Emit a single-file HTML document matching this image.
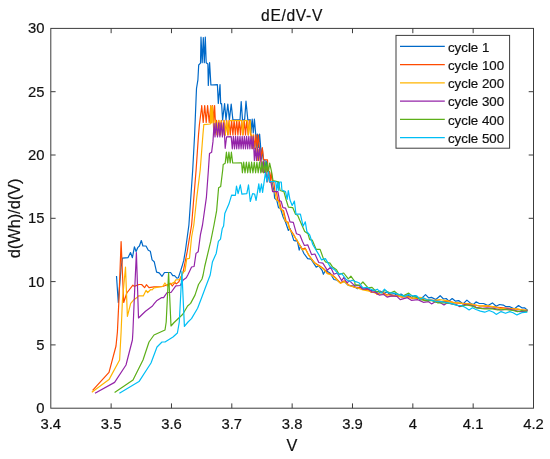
<!DOCTYPE html><html><head><meta charset="utf-8"><title>dE/dV-V</title><style>html,body{margin:0;padding:0;background:#fff}svg{display:block}text{font-family:"Liberation Sans",Arial,Helvetica,sans-serif;fill:#111;stroke:#111;stroke-width:0.18px}</style></head><body>
<svg width="550" height="459" viewBox="0 0 550 459">
<rect x="0" y="0" width="550" height="459" fill="#fff"/>
<clipPath id="c"><rect x="50.8" y="28.4" width="482.7" height="379.8"/></clipPath>
<g clip-path="url(#c)" fill="none" stroke-width="1.2" stroke-linejoin="round">
<polyline stroke="#0069C8" points="116.5,276.0 118.3,302.5 121.1,267.2 122.0,261.7 122.4,258.2 128.1,257.6 130.5,252.5 132.4,257.7 134.4,246.8 136.1,251.6 137.7,247.7 139.4,246.0 141.3,240.5 142.9,246.0 146.0,246.0 148.3,250.3 150.3,251.2 152.1,259.9 154.2,261.7 156.6,272.1 159.2,272.9 162.0,276.4 164.5,272.5 170.6,272.5 172.8,275.6 174.5,275.6 176.9,278.2 178.4,277.7 180.2,272.1 181.9,266.8 183.7,260.7 185.5,250.0 188.9,225.0 192.7,170.0 194.6,135.0 196.1,98.0 196.5,88.5 197.9,79.8 198.7,65.0 200.5,63.2 201.0,37.0 202.2,62.7 203.3,37.5 204.3,62.7 205.3,37.0 206.2,62.7 207.9,64.0 208.3,85.5 209.6,62.5 210.9,85.0 217.4,84.6 218.3,103.5 220.0,84.6 220.7,103.7 221.6,103.7 222.6,119.9 224.6,103.5 226.0,119.9 227.8,104.0 229.4,119.9 231.2,104.0 232.9,119.9 240.0,119.9 241.2,101.5 242.5,119.9 244.6,119.9 246.0,101.2 247.8,119.9 250.4,119.9 251.0,133.0 252.2,119.0 253.3,133.0 254.4,119.0 255.6,133.0 256.2,147.5 257.3,134.0 258.4,147.5 259.6,134.0 260.7,147.5 261.3,160.0 262.3,148.5 263.3,160.0 265.0,160.2 265.8,171.5 266.8,161.0 267.8,172.0 269.0,171.5 270.3,181.8 272.0,182.0 274.1,191.6 274.6,198.2 276.8,200.4 278.5,207.6 280.5,208.5 282.9,216.4 285.5,222.0 288.4,230.5 290.0,228.4 293.8,240.4 295.3,240.9 297.2,240.2 299.2,250.1 300.5,246.1 303.8,253.3 307.7,258.6 311.0,259.2 313.6,263.1 316.2,267.1 318.8,265.8 322.1,270.3 323.4,274.3 325.4,270.3 330.0,273.0 333.9,279.5 337.2,280.2 340.4,282.8 344.4,281.5 348.3,285.4 353.5,286.1 357.5,288.7 361.0,287.0 364.0,289.5 367.0,288.0 370.0,291.0 373.5,290.0 376.5,292.5 380.0,291.0 383.5,293.5 387.0,292.0 390.0,294.5 394.0,293.5 397.5,295.5 401.0,294.0 404.5,296.5 408.0,295.0 411.5,297.5 415.0,295.5 418.0,298.0 420.0,298.5 422.7,297.4 425.5,294.6 428.7,297.9 431.5,297.4 435.8,299.5 440.2,295.7 443.5,299.0 446.2,298.5 448.9,301.2 452.2,298.5 455.5,301.2 458.7,300.6 463.1,303.9 466.9,300.1 471.3,303.9 473.5,304.5 476.0,301.8 479.3,303.5 483.6,303.5 488.0,305.6 492.4,302.9 496.2,306.2 499.5,304.5 503.3,305.1 506.0,306.7 509.8,306.7 514.2,308.9 518.5,305.6 521.8,307.8 524.5,307.8 527.8,310.5"/>
<polyline stroke="#FF4A00" points="92.6,390.4 109.0,372.4 116.0,346.0 117.4,332.0 118.9,300.7 121.1,241.6 123.7,302.5 126.8,293.0 132.9,285.1 134.2,286.4 139.0,284.5 141.6,284.5 144.6,287.7 146.4,284.7 149.0,287.6 154.0,286.9 162.7,286.5 168.8,284.3 170.6,283.4 172.3,286.0 174.9,282.5 176.3,283.9 178.9,281.7 180.2,278.2 182.9,273.0 187.3,251.2 191.6,225.0 196.1,170.0 198.5,135.0 199.4,124.7 201.6,107.2 201.7,105.5 203.2,122.5 204.7,105.5 206.2,122.5 207.6,105.5 209.2,122.5 210.8,105.5 211.7,122.5 212.6,105.5 213.6,122.5 214.6,105.5 215.4,122.5 216.4,120.3 217.7,135.0 218.9,120.3 220.2,135.0 221.5,120.3 222.7,135.0 224.0,120.3 225.3,135.0 226.5,120.3 227.8,135.0 229.1,120.3 230.3,135.0 231.6,120.3 232.9,135.0 234.1,120.3 235.4,135.0 236.7,120.3 237.9,135.0 239.2,120.3 240.5,135.0 241.7,120.3 243.0,135.0 244.3,120.3 245.5,135.0 246.8,120.3 248.1,135.0 249.3,120.3 250.6,135.0 251.3,134.8 252.5,148.2 253.6,134.8 254.8,148.2 256.0,134.8 257.2,148.2 258.3,134.8 259.5,148.2 260.9,159.0 262.3,147.6 263.6,159.6 267.5,159.8 267.9,171.0 269.5,171.5 270.4,181.5 271.4,172.0 272.4,182.0 273.8,182.0 275.0,191.5 276.5,192.0 277.8,200.0 279.5,201.0 281.3,209.8 283.5,210.5 286.2,221.8 288.0,222.0 289.5,228.4 293.8,234.9 295.9,238.9 299.2,244.2 302.5,249.4 305.1,248.1 308.4,254.6 312.9,260.5 314.9,263.1 319.5,265.8 323.4,268.4 327.3,273.0 331.3,274.3 335.2,277.5 340.4,282.8 344.4,280.8 348.3,284.7 354.8,287.4 360.2,287.9 364.2,289.2 368.1,289.9 371.4,292.5 374.6,291.8 377.3,294.5 381.2,291.8 386.4,294.5 391.7,295.1 396.9,295.8 402.1,297.1 407.4,296.4 412.6,298.4 417.8,298.4 420.0,297.9 424.4,300.1 430.9,300.1 436.4,300.6 441.8,301.7 448.4,301.2 454.9,302.8 461.5,303.4 468.0,303.9 474.5,305.0 480.0,306.0 486.9,306.2 497.8,307.3 508.7,308.4 519.6,309.5 527.3,310.5"/>
<polyline stroke="#FFB400" points="91.8,392.3 109.0,379.6 119.6,360.0 121.1,332.0 122.4,300.7 125.5,267.2 127.4,316.4 130.7,303.3 134.2,299.4 137.7,296.9 138.5,295.9 143.3,295.9 146.0,290.4 147.7,292.5 150.8,289.5 152.1,289.9 154.0,287.8 162.7,286.5 164.9,283.0 167.1,286.0 170.1,284.3 174.5,282.1 175.8,279.9 180.2,279.5 182.8,272.9 185.0,270.8 186.7,258.8 189.5,258.3 191.6,237.0 193.8,225.0 196.8,197.3 200.2,170.0 202.9,135.0 203.8,124.7 210.3,124.0 210.8,106.0 211.6,123.0 212.4,106.0 213.2,122.0 214.0,134.8 215.4,120.6 216.8,134.8 218.3,120.6 219.7,134.8 221.1,120.6 222.5,134.8 223.9,120.6 225.3,134.8 226.8,120.6 228.2,134.8 229.6,120.6 241.6,120.6 242.7,134.8 243.8,120.6 247.4,120.6 248.4,134.8 250.2,120.6 251.0,135.2 252.0,148.3 253.0,135.2 254.0,148.3 256.6,148.5 257.6,160.5 258.8,149.0 260.0,161.0 261.2,160.0 262.4,172.0 263.6,161.0 264.8,172.5 266.0,172.0 267.3,182.0 268.5,172.5 269.6,182.0 271.5,182.5 273.0,191.5 275.0,192.0 276.4,200.0 278.5,201.0 280.3,209.0 282.5,210.0 285.2,221.0 287.5,222.0 289.5,229.0 293.8,235.5 296.5,239.5 299.8,245.0 302.5,250.0 305.5,249.0 308.8,255.3 312.9,261.0 315.5,263.8 319.5,266.5 323.4,269.0 327.3,273.6 331.3,275.0 335.2,278.0 340.4,283.4 344.4,281.5 348.3,285.2 355.0,287.3 362.9,289.9 369.4,291.2 377.3,293.8 385.1,294.5 388.4,296.4 394.3,295.8 400.8,296.4 407.4,297.1 413.9,298.4 420.0,297.4 425.5,299.0 433.1,300.6 439.6,299.5 446.2,300.6 452.7,302.3 459.3,302.8 463.6,303.9 470.2,303.9 475.6,305.0 480.0,306.2 486.9,305.6 492.4,306.7 500.0,308.4 508.7,308.9 517.5,308.9 522.9,310.0 527.3,310.0"/>
<polyline stroke="#9424A8" points="95.0,393.2 114.6,382.4 126.0,365.0 132.4,340.0 132.9,332.0 134.2,300.7 136.4,252.5 138.5,318.0 145.5,311.2 152.5,306.0 154.0,303.8 156.6,300.8 161.4,297.7 163.6,297.7 167.1,292.5 171.0,292.5 175.8,285.9 180.2,285.5 183.2,279.9 186.3,277.7 187.8,275.0 191.6,267.0 194.1,266.5 196.0,253.4 198.2,251.7 200.4,234.8 202.5,225.0 206.4,197.3 208.4,170.0 209.5,153.6 211.6,152.3 213.0,141.4 214.1,123.3 215.0,137.0 216.2,122.8 217.5,137.0 218.7,122.8 219.9,137.0 221.1,122.8 222.4,137.0 223.6,122.8 224.6,136.8 225.2,148.3 226.6,136.8 231.2,136.6 232.3,148.8 233.4,136.4 234.5,148.8 235.6,136.4 236.7,148.8 237.8,136.4 238.9,148.8 240.0,136.4 241.1,148.8 242.2,136.4 243.3,148.8 244.4,136.4 245.5,148.8 246.6,136.4 247.7,148.8 248.8,136.4 249.9,148.8 251.0,136.4 252.1,148.8 253.2,136.4 254.4,160.5 255.4,148.0 256.5,160.5 257.5,148.0 258.6,160.5 259.6,148.0 260.8,160.5 262.0,172.0 263.2,161.0 264.4,172.5 265.8,172.0 267.0,182.0 268.3,172.5 269.5,182.0 271.0,182.5 272.6,191.6 275.2,191.6 277.9,191.6 279.5,200.4 281.2,201.5 282.9,207.6 285.6,208.2 288.4,216.4 290.0,221.8 293.3,222.4 296.5,233.8 299.9,235.0 302.5,241.5 304.4,245.5 307.7,244.8 311.6,254.6 314.9,254.0 318.8,262.5 322.8,263.1 327.3,270.3 330.6,267.1 333.9,274.3 337.2,273.0 341.7,280.8 343.7,277.5 347.0,282.8 349.6,280.8 353.5,284.7 355.0,285.9 358.9,285.3 362.9,289.2 368.1,288.6 372.0,291.8 375.9,292.5 379.2,295.1 383.8,294.5 387.1,297.1 391.7,295.8 396.9,296.4 400.2,299.7 407.4,297.7 411.3,300.3 417.8,299.7 420.0,300.6 423.3,302.3 428.7,301.7 431.5,303.9 435.3,301.7 439.6,302.3 444.0,305.0 447.3,302.8 451.6,303.9 456.0,304.5 459.8,306.6 464.7,304.5 469.1,305.0 474.5,306.1 476.0,307.3 482.5,308.4 486.9,307.8 493.5,308.4 501.1,310.0 507.6,308.9 513.1,310.0 519.6,311.6 527.3,311.1"/>
<polyline stroke="#5CAF18" points="114.6,392.4 133.0,380.0 143.0,360.0 149.0,342.0 154.0,335.0 165.0,330.0 166.2,322.0 168.6,272.5 171.0,326.0 174.1,322.5 182.8,314.3 187.6,306.0 190.6,303.4 195.0,295.1 198.5,284.5 202.0,279.0 203.1,275.0 204.7,266.5 210.7,241.4 214.0,225.0 216.6,210.9 218.6,187.7 220.7,186.4 222.7,170.0 223.2,164.5 225.2,163.2 226.4,152.2 227.7,163.0 228.9,152.2 230.2,163.0 231.4,152.2 232.7,163.0 241.6,162.8 242.4,172.8 243.7,162.2 245.0,172.8 246.4,162.2 247.7,172.8 249.0,162.2 250.3,172.8 251.6,162.2 252.9,172.8 254.3,162.2 255.6,172.8 256.9,162.2 258.2,172.8 259.5,162.2 260.8,172.8 262.2,162.2 263.5,172.8 264.8,162.2 266.0,172.5 267.2,162.5 268.4,172.5 269.6,163.0 271.4,170.9 273.0,180.7 278.5,181.8 280.1,190.5 283.9,191.6 286.2,200.0 288.4,207.1 292.7,207.6 295.5,214.2 297.6,215.3 300.4,221.8 304.7,231.6 308.0,233.8 309.7,239.6 312.3,240.2 316.2,249.4 320.1,249.4 323.4,258.6 325.4,261.8 330.0,263.1 332.6,267.1 336.5,269.7 339.1,274.3 343.7,273.0 348.3,278.9 350.9,276.2 354.8,281.5 355.0,284.6 359.6,285.3 362.9,282.0 368.1,287.9 372.0,287.3 375.9,291.2 381.2,292.5 385.1,290.5 390.3,293.1 394.3,291.2 398.2,294.5 403.4,295.8 408.7,293.1 412.6,296.4 417.8,297.7 420.0,299.5 425.5,300.6 432.0,300.6 437.5,302.8 445.1,302.8 450.5,303.4 456.0,305.0 461.5,306.1 466.9,305.0 472.4,306.1 476.0,307.8 484.7,308.9 492.4,308.9 497.8,310.0 505.5,309.5 513.1,310.5 517.5,311.6 521.8,310.5 527.3,311.6"/>
<polyline stroke="#00BEF5" points="119.4,393.2 139.0,381.6 151.0,363.0 157.0,347.0 162.0,342.0 165.0,342.0 173.0,337.0 177.4,333.0 179.3,322.0 181.9,271.6 184.4,326.4 188.0,322.0 191.5,318.6 197.6,308.2 202.0,296.8 206.0,286.0 210.2,275.0 212.4,262.1 216.2,253.4 218.4,241.4 220.5,239.2 222.2,228.8 223.6,226.0 224.8,213.6 228.9,204.1 231.6,195.2 235.4,195.3 236.5,186.0 238.1,193.6 240.3,184.9 241.9,194.2 246.8,193.6 248.5,184.9 250.3,201.5 252.6,193.6 254.6,194.0 256.1,200.5 258.8,183.8 259.9,192.5 261.5,183.8 262.6,192.5 265.4,172.9 267.0,181.6 268.6,171.8 269.7,181.6 275.7,181.7 276.7,190.5 277.7,182.0 278.7,190.5 279.6,182.0 281.3,182.0 281.9,190.0 285.5,191.6 287.2,199.3 288.3,190.5 290.0,200.0 292.2,205.5 294.4,201.1 296.0,214.2 300.4,214.2 303.1,226.2 305.3,221.8 306.9,231.6 309.7,235.0 312.9,244.8 318.8,254.6 321.5,259.9 325.4,258.6 330.0,266.4 335.2,270.3 338.5,274.3 341.7,273.6 346.3,279.5 349.6,281.5 352.2,280.2 355.0,281.4 358.9,282.7 362.9,287.9 367.4,287.3 370.7,289.2 374.0,290.5 377.3,289.2 381.2,293.1 384.5,289.2 387.7,292.5 394.3,293.1 399.5,294.5 404.7,296.4 408.7,294.5 412.6,295.8 416.5,295.8 420.0,299.0 423.3,297.9 426.5,299.5 430.9,300.1 435.3,301.2 441.8,301.7 448.4,302.8 452.7,303.9 457.1,305.5 461.5,305.5 465.8,307.7 469.1,309.9 472.4,307.7 476.0,309.5 480.4,311.1 484.7,312.2 489.1,310.5 493.5,312.2 496.2,314.4 501.1,311.6 505.5,313.3 509.8,311.6 513.1,312.7 516.9,314.9 521.8,312.7 527.3,312.2"/>
</g>
<g stroke="#3c3c3c" stroke-width="1" fill="none">
<rect x="50.8" y="28.4" width="482.7" height="379.8"/>
<path d="M111.14,408.2v-4.8M111.14,28.4v4.8M171.48,408.2v-4.8M171.48,28.4v4.8M231.81,408.2v-4.8M231.81,28.4v4.8M292.15,408.2v-4.8M292.15,28.4v4.8M352.49,408.2v-4.8M352.49,28.4v4.8M412.83,408.2v-4.8M412.83,28.4v4.8M473.16,408.2v-4.8M473.16,28.4v4.8M50.8,344.90h4.8M533.5,344.90h-4.8M50.8,281.60h4.8M533.5,281.60h-4.8M50.8,218.30h4.8M533.5,218.30h-4.8M50.8,155.00h4.8M533.5,155.00h-4.8M50.8,91.70h4.8M533.5,91.70h-4.8"/>
</g>
<g font-size="14.8px">
<text x="50.80" y="428.7" text-anchor="middle">3.4</text>
<text x="111.14" y="428.7" text-anchor="middle">3.5</text>
<text x="171.48" y="428.7" text-anchor="middle">3.6</text>
<text x="231.81" y="428.7" text-anchor="middle">3.7</text>
<text x="292.15" y="428.7" text-anchor="middle">3.8</text>
<text x="352.49" y="428.7" text-anchor="middle">3.9</text>
<text x="412.83" y="428.7" text-anchor="middle">4</text>
<text x="473.16" y="428.7" text-anchor="middle">4.1</text>
<text x="533.50" y="428.7" text-anchor="middle">4.2</text>
<text x="44.5" y="413.10" text-anchor="end">0</text>
<text x="44.5" y="349.80" text-anchor="end">5</text>
<text x="44.5" y="286.50" text-anchor="end">10</text>
<text x="44.5" y="223.20" text-anchor="end">15</text>
<text x="44.5" y="159.90" text-anchor="end">20</text>
<text x="44.5" y="96.60" text-anchor="end">25</text>
<text x="44.5" y="33.30" text-anchor="end">30</text>
</g>
<text x="261.1" y="20.6" font-size="15.6px" textLength="61.2" lengthAdjust="spacing">dE/dV-V</text>
<text x="292" y="451.2" font-size="16.3px" text-anchor="middle">V</text>
<text transform="translate(20.2,218.4) rotate(-90)" font-size="16.3px" text-anchor="middle">d(Wh)/d(V)</text>
<rect x="396.0" y="35.4" width="113.6" height="112.8" fill="#fff" stroke="#3c3c3c" stroke-width="1"/>
<line x1="400" y1="46.30" x2="444.8" y2="46.30" stroke="#0069C8" stroke-width="1.3"/>
<text x="447.9" y="51.50" font-size="13.33px">cycle 1</text>
<line x1="400" y1="64.55" x2="444.8" y2="64.55" stroke="#FF4A00" stroke-width="1.3"/>
<text x="447.9" y="69.75" font-size="13.33px">cycle 100</text>
<line x1="400" y1="82.80" x2="444.8" y2="82.80" stroke="#FFB400" stroke-width="1.3"/>
<text x="447.9" y="88.00" font-size="13.33px">cycle 200</text>
<line x1="400" y1="101.05" x2="444.8" y2="101.05" stroke="#9424A8" stroke-width="1.3"/>
<text x="447.9" y="106.25" font-size="13.33px">cycle 300</text>
<line x1="400" y1="119.30" x2="444.8" y2="119.30" stroke="#5CAF18" stroke-width="1.3"/>
<text x="447.9" y="124.50" font-size="13.33px">cycle 400</text>
<line x1="400" y1="137.55" x2="444.8" y2="137.55" stroke="#00BEF5" stroke-width="1.3"/>
<text x="447.9" y="142.75" font-size="13.33px">cycle 500</text>
</svg></body></html>
